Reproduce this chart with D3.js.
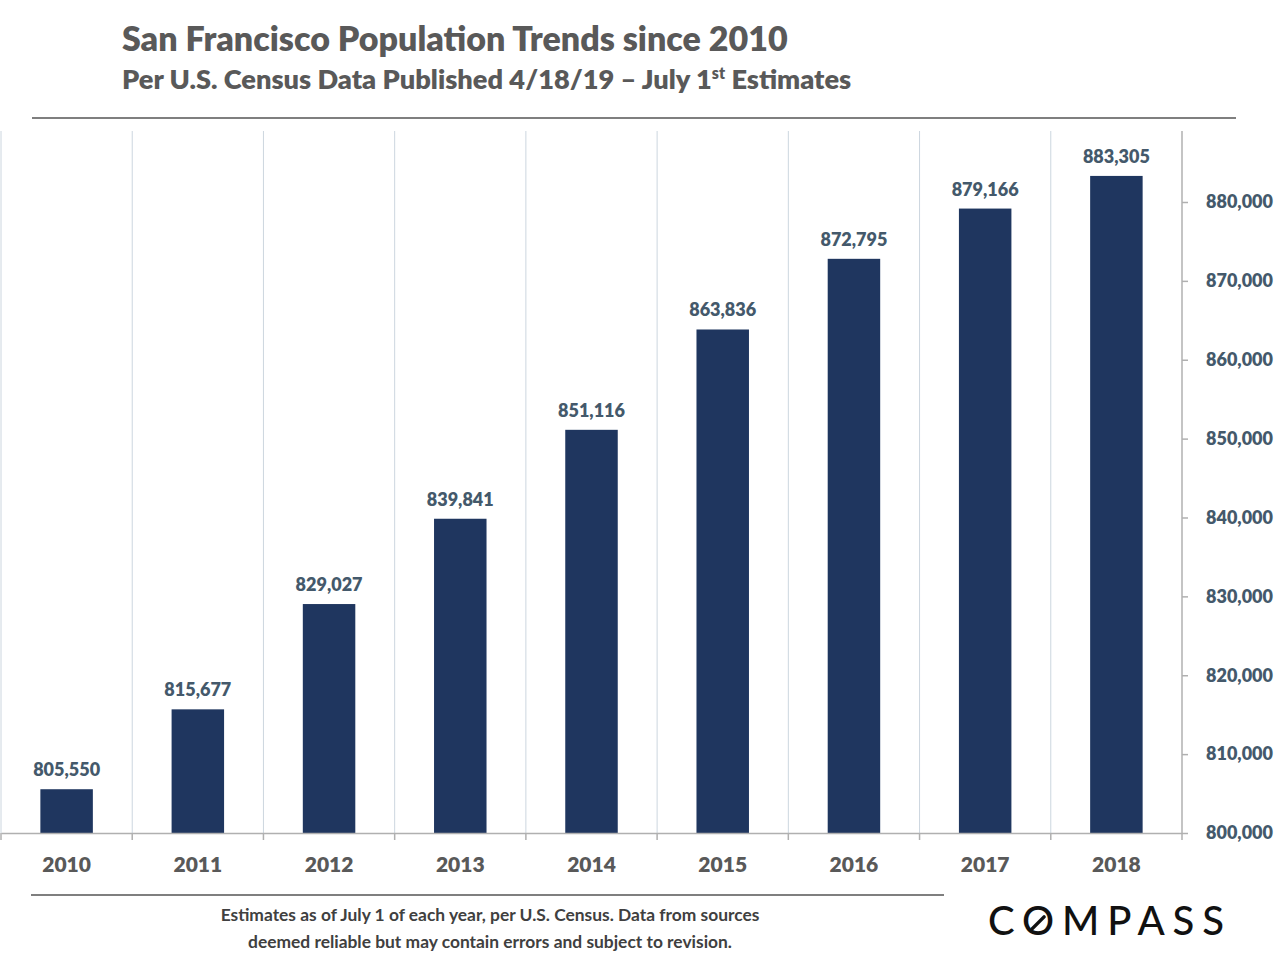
<!DOCTYPE html>
<html><head><meta charset="utf-8">
<script src="https://cdn.jsdelivr.net/npm/d3@7/dist/d3.min.js"></script>
<style>body{margin:0;background:#fff}svg{display:block}</style>
</head><body>
<svg id="c" width="1288" height="960"></svg>
<script>
const years = ["2010","2011","2012","2013","2014","2015","2016","2017","2018"];
const population = [805550,815677,829027,839841,851116,863836,872795,879166,883305];
const yTicks = [800000,810000,820000,830000,840000,850000,860000,870000,880000];
const title = "San Francisco Population Trends since 2010";
const subtitle = "Per U.S. Census Data Published 4/18/19 \u2013 July 1";
const footnote = ["Estimates as of July 1 of each year, per U.S. Census. Data from sources","deemed reliable but may contain errors and subject to revision."];

const font = "Lato, 'Open Sans', sans-serif";
const svg = d3.select("#c");
const x = d3.scaleBand().domain(years).range([1, 1182]).paddingInner(0.6).paddingOuter(0.3);
const xb = d3.scaleBand().domain(years).range([1, 1182]);
const y = d3.scaleLinear().domain([800000, 889000]).range([833, 131]);

// header
svg.append("text").attr("x",122).attr("y",51).attr("font-family",font).attr("font-weight",800)
  .attr("font-size",34).attr("fill","#595959").text(title);
const st = svg.append("text").attr("x",122).attr("y",89).attr("font-family",font).attr("font-weight",800)
  .attr("font-size",27.2).attr("fill","#595959");
st.append("tspan").text(subtitle);
st.append("tspan").attr("dy",-10).attr("font-size",16).text("st");
st.append("tspan").attr("dy",10).text(" Estimates");
svg.append("line").attr("x1",32).attr("x2",1236).attr("y1",118).attr("y2",118).attr("stroke","#7f7f7f").attr("stroke-width",2);

// vertical gridlines at category boundaries
const g = svg.append("g");
g.selectAll("line.grid").data(years).join("line").attr("class","grid")
  .attr("x1",d=>xb(d)).attr("x2",d=>xb(d)).attr("y1",131).attr("y2",833)
  .attr("stroke","#ccd6df").attr("stroke-width",1);

// bars
g.selectAll("rect").data(years).join("rect")
  .attr("x",d=>x(d)).attr("width",x.bandwidth())
  .attr("y",(d,i)=>y(population[i])).attr("height",(d,i)=>833-y(population[i]))
  .attr("fill","#1f365f");

// value labels
g.selectAll("text.val").data(years).join("text").attr("class","val")
  .attr("x",d=>x(d)+x.bandwidth()/2).attr("y",(d,i)=>y(population[i])-13)
  .attr("text-anchor","middle").attr("font-family",font).attr("font-weight",800)
  .attr("font-size",18).attr("fill","#44596b")
  .text((d,i)=>d3.format(",")(population[i]));

// x axis
const xAxis = d3.axisBottom(xb).tickSize(0).tickFormat(d=>d);
const xa = svg.append("g").attr("transform","translate(0,833)").call(xAxis);
xa.select(".domain").attr("stroke","#b0b0b0").attr("stroke-width",1.5);
xa.selectAll(".tick text").attr("font-family",font).attr("font-weight",800).attr("font-size",21)
  .attr("fill","#595959").attr("dy",0).attr("y",39);
svg.append("g").selectAll("line").data(years.slice(1)).join("line")
  .attr("x1",d=>xb(d)).attr("x2",d=>xb(d)).attr("y1",833).attr("y2",840).attr("stroke","#b0b0b0").attr("stroke-width",1.5);
svg.append("line").attr("x1",1).attr("x2",1).attr("y1",833).attr("y2",840).attr("stroke","#b0b0b0").attr("stroke-width",1.5);

// right y axis
const yAxis = d3.axisRight(y).tickValues(yTicks).tickSize(6).tickPadding(18).tickFormat(d3.format(","));
const ya = svg.append("g").attr("transform","translate(1182,0)").call(yAxis);
ya.select(".domain").attr("stroke","#b0b0b0").attr("stroke-width",1.5).attr("d","M0,131V840");
ya.selectAll(".tick line").attr("stroke","#b0b0b0").attr("stroke-width",1.5);
ya.selectAll(".tick text").attr("font-family",font).attr("font-weight",800).attr("font-size",18).attr("fill","#44596b");

// footer
svg.append("line").attr("x1",31).attr("x2",944).attr("y1",895).attr("y2",895).attr("stroke","#7f7f7f").attr("stroke-width",2);
svg.selectAll("text.foot").data(footnote).join("text").attr("class","foot")
  .attr("x",490).attr("y",(d,i)=>921+i*27).attr("text-anchor","middle")
  .attr("font-family",font).attr("font-weight",700).attr("font-size",17.4).attr("fill","#404040").text(d=>d);

// logo
const logo = svg.append("text").attr("x",988).attr("y",935).attr("font-family",font).attr("font-weight",500)
  .attr("font-size",40).attr("fill","#111").attr("letter-spacing",6).attr("textLength",242).attr("lengthAdjust","spacing");
logo.text("COMPASS");
try {
  const b = logo.node().getExtentOfChar(1);
  const cx = b.x + b.width/2 - 3, cy = b.y + b.height*0.56;
  svg.append("line").attr("x1",cx-6).attr("y1",cy+6).attr("x2",cx+6).attr("y2",cy-6)
    .attr("stroke","#111").attr("stroke-width",3.5).attr("stroke-linecap","round");
} catch(e) {}
</script>
</body></html>
